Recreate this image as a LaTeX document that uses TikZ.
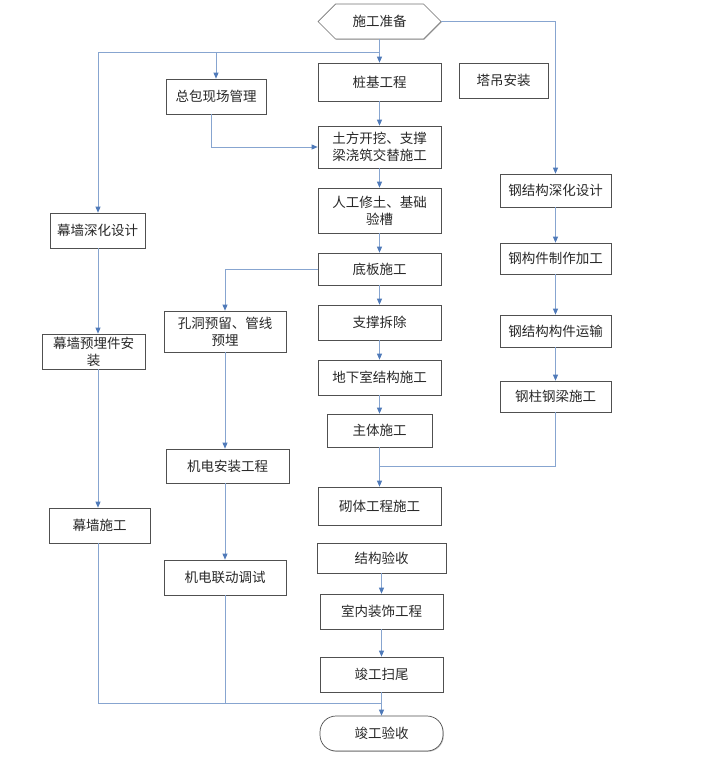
\documentclass[tikz,border=0pt]{standalone}
\usepackage{fontspec}
\usepackage{tikz}
\usetikzlibrary{shapes.symbols, arrows.meta, calc, shadows}
\newfontfamily\cjk{Noto Sans CJK SC}
\definecolor{myblue}{RGB}{79,122,185}
\definecolor{mylight}{RGB}{135,165,208}
\definecolor{mydark}{RGB}{80,80,80}
\definecolor{mytext}{RGB}{40,40,40}
\tikzset{
  block/.style={rectangle, draw=mydark, fill=white, text=mytext,
    minimum width=123pt, minimum height=35pt, inner sep=1pt,
    align=center, font=\cjk\fontsize{13.5}{17}\selectfont, line width=0.7pt,
    drop shadow={shadow xshift=0.8pt, shadow yshift=-0.8pt, fill=black!45, opacity=0.5}},
  hexblock/.style={block, draw=black!55, signal, signal to=east and west, signal pointer angle=90,
    minimum width=123pt},
  endblock/.style={block, rounded corners=16pt},
  arrow/.style={-{Triangle[length=6pt,width=5pt,color=myblue]}, line width=0.7pt, color=mylight},
  line/.style={line width=0.7pt, color=mylight}
}
\begin{document}
\begin{tikzpicture}[x=1pt,y=-1pt]
  \useasboundingbox (0,0) rectangle (705,766);
  % main column
  \node[hexblock] (prep) at (379.5,21.5) {施工准备};
  \node[block, minimum height=38pt] (zj) at (379.5,82) {桩基工程};
  \node[block, minimum height=42pt] (tf) at (379.5,147) {土方开挖、支撑\\梁浇筑交替施工};
  \node[block, minimum height=45pt] (rg) at (379.5,210.5) {人工修土、基础\\验槽};
  \node[block, minimum height=32pt] (db) at (379.5,269) {底板施工};
  \node[block] (cc) at (379.5,322.5) {支撑拆除};
  \node[block] (dxs) at (379.5,377.5) {地下室结构施工};
  \node[block, minimum width=105pt, minimum height=33pt] (zt) at (379.5,430.5) {主体施工};
  \node[block, minimum height=38pt] (qt) at (379.5,506) {砌体工程施工};
  \node[block, minimum width=129pt, minimum height=30pt] (jgys) at (381.5,558) {结构验收};
  \node[block] (snzs) at (381.5,611.5) {室内装饰工程};
  \node[block] (jgsw) at (381.5,674.5) {竣工扫尾};
  \node[endblock] (jgyanshou) at (381.5,733.5) {竣工验收};
  % left columns
  \node[block, minimum width=100pt] (zb) at (216,96.5) {总包现场管理};
  \node[block, minimum width=95pt] (mqsj) at (97.5,230.5) {幕墙深化设计};
  \node[block, minimum width=103pt] (mqyl) at (93.5,351.5) {幕墙预埋件安\\装};
  \node[block, minimum width=101pt] (mqsg) at (99.5,525.5) {幕墙施工};
  \node[block, minimum width=122pt, minimum height=41pt] (kd) at (225,331.5) {孔洞预留、管线\\预埋};
  \node[block, minimum height=34pt] (jdaz) at (227.5,466) {机电安装工程};
  \node[block, minimum width=122pt] (jdld) at (225,577.5) {机电联动调试};
  % right column
  \node[block, minimum width=89pt] (tdaz) at (503.5,80.5) {塔吊安装};
  \node[block, minimum width=111pt, minimum height=33pt] (gsj) at (555.5,190.5) {钢结构深化设计};
  \node[block, minimum width=111pt, minimum height=31pt] (gzz) at (555.5,258.5) {钢构件制作加工};
  \node[block, minimum width=111pt, minimum height=32pt] (gys) at (555.5,331) {钢结构构件运输};
  \node[block, minimum width=111pt, minimum height=31pt] (gzl) at (555.5,396.5) {钢柱钢梁施工};

  \coordinate (br) at (379.5,52);
  \coordinate (m1) at (379.5,466);
  \coordinate (m2) at (381.5,703);

  \draw[arrow] (prep.south) -- (zj.north);
  \draw[line] (prep.south) -- (br);
  \draw[arrow] (br) -| (98,0 |- mqsj.north);
  \draw[arrow] (br -| zb.north) -- (zb.north);
  \draw[arrow] (zb.south -| 211,0) |- (tf.west);
  \draw[arrow] (prep.east) -| (gsj.north);
  \draw[arrow] (zj) -- (tf);
  \draw[arrow] (tf) -- (rg);
  \draw[arrow] (rg) -- (db);
  \draw[arrow] (db) -- (cc);
  \draw[arrow] (cc) -- (dxs);
  \draw[arrow] (dxs) -- (zt);
  \draw[arrow] (zt) -- (qt);
  \draw[arrow] (db.west) -| (kd.north);
  \draw[arrow] (kd) -- (kd |- jdaz.north);
  \draw[arrow] (kd |- jdaz.south) -- (jdld.north);
  \draw[arrow] (98,0 |- mqsj.south) -- (98,0 |- mqyl.north);
  \draw[arrow] (98,0 |- mqyl.south) -- (98,0 |- mqsg.north);
  \draw[arrow] (gsj) -- (gzz);
  \draw[arrow] (gzz) -- (gys);
  \draw[arrow] (gys) -- (gzl);
  \draw[line] (gzl.south) |- (m1);
  \draw[arrow] (jgys) -- (snzs);
  \draw[arrow] (snzs) -- (jgsw);
  \draw[arrow] (jgsw) -- (jgyanshou);
  \draw[line] (98,0 |- mqsg.south) |- (m2);
  \draw[line] (jdld.south) -- (jdld.south |- m2);
\end{tikzpicture}
\end{document}
